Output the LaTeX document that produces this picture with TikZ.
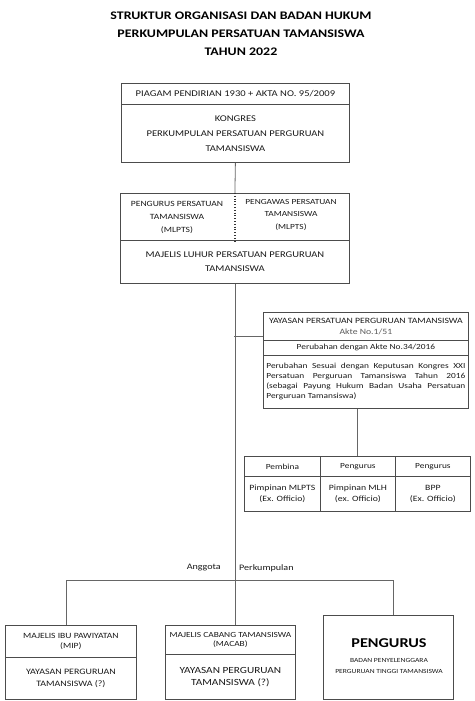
\documentclass[tikz,border=0pt]{standalone}
\usepackage{fontspec}
\setmainfont{Carlito}[FakeStretch=1.2]
\begin{document}
\begin{tikzpicture}[x=1pt,y=-1pt,
  box/.style={draw=black!70,line width=0.8pt,rectangle,inner sep=0pt,anchor=north west,align=center,text=black!90},
  conn/.style={draw=black!60,line width=0.8pt},
  txt/.style={align=center,inner sep=0pt,text=black!90},
  lbl/.style={font=\fontsize{8.4}{10}\selectfont,text=black!90,inner sep=0pt}]
\useasboundingbox (0,0) rectangle (474,701);
% title
\node[align=center,font=\fontsize{11.6}{18}\selectfont\bfseries,inner sep=0pt] (title) at (241,34)
 {STRUKTUR ORGANISASI DAN BADAN HUKUM\\PERKUMPULAN PERSATUAN TAMANSISWA\\TAHUN 2022};
% top boxes
\node[box,minimum width=228,minimum height=21,font=\fontsize{8.8}{10}\selectfont] (piagam) at (121,83) {PIAGAM PENDIRIAN 1930 + AKTA NO. 95/2009};
\node[box,minimum width=228,minimum height=58,font=\fontsize{8.8}{15}\selectfont] (kongres) at (121,104) {KONGRES\\PERKUMPULAN PERSATUAN PERGURUAN\\TAMANSISWA};
\node[box,minimum width=229,minimum height=47] (mlpts) at (120,193) {};
\node[txt,font=\fontsize{8}{13}\selectfont] (pengurus) at (177,217) {PENGURUS PERSATUAN\\TAMANSISWA\\(MLPTS)};
\node[txt,font=\fontsize{7.8}{12.5}\selectfont] (pengawas) at (291,215) {PENGAWAS PERSATUAN\\TAMANSISWA\\(MLPTS)};
\draw[conn,dotted,line width=1.2pt,draw=black!80] (mlpts.north) -- (mlpts.south);
\node[box,minimum width=229,minimum height=43,font=\fontsize{8.8}{14}\selectfont] (majelis) at (120,240) {MAJELIS LUHUR PERSATUAN PERGURUAN\\TAMANSISWA};
% yayasan
\node[box,minimum width=205,minimum height=28,font=\fontsize{8.1}{10.5}\selectfont] (yhead) at (263,312) {YAYASAN PERSATUAN PERGURUAN TAMANSISWA\\{\color{black!65}Akte No.1/51}};
\node[box,minimum width=205,minimum height=15,font=\fontsize{7.8}{10}\selectfont] (ypub) at (263,340) {Perubahan dengan Akte No.34/2016};
\node[box,minimum width=205,minimum height=53,text width=199,align=justify,font=\fontsize{7.8}{10}\selectfont] (ysesuai) at (263,355) {Perubahan Sesuai dengan Keputusan Kongres XXI\linebreak Persatuan Perguruan Tamansiswa Tahun 2016\linebreak (sebagai Payung Hukum Badan Usaha Persatuan\linebreak Perguruan Tamansiswa)};
% table
\node[box,minimum width=76,minimum height=20,font=\fontsize{7.8}{9}\selectfont] (t1) at (244,456) {Pembina};
\node[box,minimum width=75,minimum height=20,font=\fontsize{7.8}{9}\selectfont] (t2) at (320,456) {Pengurus};
\node[box,minimum width=75,minimum height=20,font=\fontsize{7.8}{9}\selectfont] (t3) at (395,456) {Pengurus};
\node[box,minimum width=76,minimum height=35,font=\fontsize{8.1}{10.5}\selectfont] (b1) at (244,476) {Pimpinan MLPTS\\(Ex. Officio)};
\node[box,minimum width=75,minimum height=35,font=\fontsize{8.1}{10.5}\selectfont] (b2) at (320,476) {Pimpinan MLH\\(ex. Officio)};
\node[box,minimum width=75,minimum height=35,font=\fontsize{8.1}{10.5}\selectfont] (b3) at (395,476) {BPP\\(Ex. Officio)};
% bottom
\node[box,minimum width=131,minimum height=32,font=\fontsize{8}{10.5}\selectfont] (mip) at (5,625) {MAJELIS IBU PAWIYATAN\\(MIP)};
\node[box,minimum width=131,minimum height=42,font=\fontsize{8.3}{11.5}\selectfont] (ypt1) at (5,657) {YAYASAN PERGURUAN\\TAMANSISWA (?)};
\node[box,minimum width=130,minimum height=29,font=\fontsize{7.8}{9.5}\selectfont] (macab) at (165,625) {MAJELIS CABANG TAMANSISWA\\(MACAB)};
\node[box,minimum width=130,minimum height=45,font=\fontsize{9.4}{12}\selectfont] (ypt2) at (165,654) {YAYASAN PERGURUAN\\TAMANSISWA (?)};
\node[box,minimum width=130,minimum height=84] (pb) at (323,615) {};
\node[txt,text=black,font=\fontsize{13.5}{15}\selectfont\bfseries] (pbt) at (389,643) {PENGURUS};
\node[txt,font=\fontsize{6.3}{11}\selectfont] (pbs) at (389,666) {BADAN PENYELENGGARA\\PERGURUAN TINGGI TAMANSISWA};
% labels
\node[lbl,anchor=east] (angg) at (221,568) {Anggota};
\node[lbl,anchor=west] (perk) at (239,568) {Perkumpulan};
% connectors
\coordinate (jl) at (66,580);
\coordinate (jr) at (393,580);
\coordinate (jy) at (234,336);
\draw[conn] (kongres.south) -- (mlpts.north);
\draw[conn] (majelis.south) -- (majelis.south |- macab.north);
\draw[conn] (jy) -- (jy -| yhead.west);
\draw[conn] (jl |- mip.north) -- (jl) -- (jr) -- (jr |- pb.north);
\draw[conn] (ysesuai.south -| 357,0) -- (357,456);
\end{tikzpicture}
\end{document}
